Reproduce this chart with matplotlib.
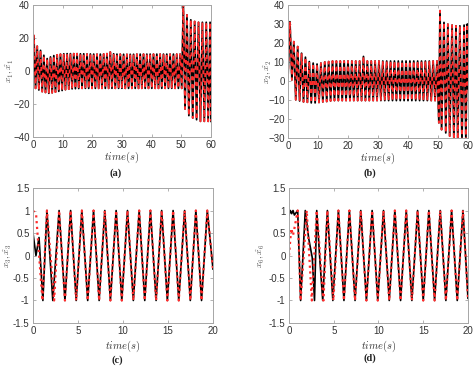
import numpy as np
import matplotlib
matplotlib.use('Agg')
import matplotlib.pyplot as plt

plt.rcParams['font.family'] = ['Liberation Sans', 'DejaVu Sans']
plt.rcParams['mathtext.fontset'] = 'cm'

# (a) x1 : peaks / troughs of the oscillation (time s, value)
a_peak_t = [0.3, 1.42, 2.54, 3.66, 4.78, 5.9, 7.02, 8.14, 9.26, 10.38,
            11.5, 12.62, 13.74, 14.86, 15.98, 17.1, 18.22, 19.34, 20.46, 21.58,
            22.7, 23.82, 24.94, 26.06, 27.18, 28.3, 29.42, 30.54, 31.66, 32.78,
            33.9, 35.02, 36.14, 37.26, 38.38, 39.5, 40.62, 41.74, 42.86, 43.98,
            45.1, 46.22, 47.34, 48.46, 49.58,
            50.67, 51.9, 53.2, 54.5, 55.8, 57.1, 58.4, 59.7]
a_peak_v = [21.5, 15.0, 12.5, 9.5, 7.5, 8.5, 9.3, 9.8, 10.2, 10.4,
            10.5, 10.5, 10.5, 10.5, 10.4, 10.4, 10.3, 10.3, 10.2, 10.2,
            10.2, 10.3, 10.5, 11.5, 10.4, 10.2, 10.2, 10.1, 10.1, 10.1,
            10.1, 10.2, 10.2, 10.2, 10.2, 10.2, 10.2, 10.2, 10.2, 10.2,
            10.2, 10.2, 10.2, 10.2, 10.2,
            41.0, 34.0, 31.0, 30.0, 29.5, 29.5, 29.5, 29.5]
a_trough_t = [0.0, 0.86, 1.98, 3.1, 4.22, 5.34, 6.46, 7.58, 8.7, 9.82, 10.94,
              12.06, 13.18, 14.3, 15.42, 16.54, 17.66, 18.78, 19.9, 21.02, 22.14,
              23.26, 24.38, 25.5, 26.62, 27.74, 28.86, 29.98, 31.1, 32.22, 33.34,
              34.46, 35.58, 36.7, 37.82, 38.94, 40.06, 41.18, 42.3, 43.42, 44.54,
              45.66, 46.78, 47.9, 49.02, 50.14,
              51.25, 52.55, 53.85, 55.15, 56.45, 57.75, 59.05, 60.0]
a_trough_v = [0.0, -10.5, -11.5, -12.5, -13.0, -13.5, -13.2, -12.8, -12.3, -11.8, -11.3,
              -11.0, -10.8, -10.7, -10.6, -10.5, -10.5, -10.5, -10.5, -10.5, -10.5,
              -10.5, -10.5, -10.5, -10.5, -10.5, -10.5, -10.5, -10.5, -10.5, -10.5,
              -10.5, -10.5, -10.5, -10.5, -10.5, -10.5, -10.5, -10.5, -10.5, -10.5,
              -10.5, -10.5, -10.5, -10.5, -10.5,
              -23.0, -27.0, -28.5, -29.5, -30.5, -30.5, -30.5, -30.5]

# (b) x2
b_peak_t = [0.65, 1.94, 3.23, 4.52, 5.81, 7.1, 8.39, 9.68, 10.97, 12.26,
            13.55, 14.84, 16.13, 17.42, 18.71, 20.0, 21.29, 22.58, 23.87, 25.16,
            26.45, 27.74, 29.03, 30.32, 31.61, 32.9, 34.19, 35.48, 36.77, 38.06,
            39.35, 40.64, 41.93, 43.22, 44.51, 45.8, 47.09, 48.38, 49.67,
            50.67, 52.0, 53.3, 54.7, 56.0, 57.3, 58.7, 59.8]
b_peak_v = [31.2, 20.7, 18.1, 14.6, 12.5, 10.2, 9.4, 8.9, 9.4, 10.0,
            10.2, 10.5, 10.5, 10.5, 10.5, 10.5, 10.5, 10.5, 10.5, 12.9,
            10.5, 10.5, 10.5, 10.5, 10.5, 10.5, 10.5, 10.5, 10.5, 10.5,
            10.5, 10.5, 10.5, 10.5, 10.5, 10.5, 10.5, 10.5, 10.5,
            37.0, 30.8, 29.9, 29.4, 29.0, 29.0, 29.4, 30.0]
b_trough_t = [0.0, 1.3, 2.59, 3.88, 5.17, 6.46, 7.75, 9.04, 10.33, 11.62, 12.91,
              14.2, 15.49, 16.78, 18.07, 19.36, 20.65, 21.94, 23.23, 24.52, 25.81,
              27.1, 28.39, 29.68, 30.97, 32.26, 33.55, 34.84, 36.13, 37.42, 38.71,
              40.0, 41.29, 42.58, 43.87, 45.16, 46.45, 47.74, 49.03, 50.3,
              51.2, 52.6, 53.9, 55.3, 56.6, 58.0, 59.3, 60.0]
b_trough_v = [2.0, 0.6, -9.9, -10.5, -11.0, -11.2, -11.5, -11.5, -11.3, -11.0, -10.8,
              -10.5, -10.3, -10.3, -10.3, -10.3, -10.3, -10.3, -10.3, -10.3, -10.3,
              -10.3, -10.3, -10.3, -10.3, -10.3, -10.3, -10.3, -10.3, -10.3, -10.3,
              -10.3, -10.3, -10.3, -10.3, -10.3, -10.3, -10.3, -10.3, -22.0,
              -25.6, -27.3, -29.0, -31.0, -31.0, -31.0, -31.0, -4.0]

# (c) x3 : turning points, actual (black) and estimate (red)
c_t = [0, 0.33, 0.67, 1.1, 1.55, 2.2, 2.9, 3.55, 4.18, 4.8, 5.43, 6.08, 6.73,
       7.35, 7.98, 8.6, 9.24, 9.87, 10.5, 11.15, 11.8, 12.42, 13.05, 13.68,
       14.3, 14.93, 15.57, 16.2, 16.85, 17.48, 18.1, 18.73, 19.37, 20.0]
c_x = [0.5, 0.0, 0.4, -1, 1, -1, 1, -1, 1, -1, 1, -1, 1,
       -1, 1, -1, 1, -1, 1, -1, 1, -1, 1, -1,
       1, -1, 1, -1, 1, -1, 1, -1, 1, -0.3]
c_t_hat = [0, 0.35, 1.05, 1.55, 2.35, 2.9, 3.55, 4.18, 4.8, 5.43, 6.08, 6.73,
           7.35, 7.98, 8.6, 9.24, 9.87, 10.5, 11.15, 11.8, 12.42, 13.05, 13.68,
           14.3, 14.93, 15.57, 16.2, 16.85, 17.48, 18.1, 18.73, 19.37, 20.0]
c_x_hat = [1.0, 0.9, -1, 1, -1, 1, -1, 1, -1, 1, -1, 1,
           -1, 1, -1, 1, -1, 1, -1, 1, -1, 1, -1,
           1, -1, 1, -1, 1, -1, 1, -1, 1, -0.3]

# (d) x6
d_t = [0, 0.15, 0.3, 0.45, 0.6, 0.97, 1.3, 1.82, 2.2, 2.6, 2.85, 3.1, 3.45, 3.77,
       4.29, 4.9, 5.52, 6.14, 6.75, 7.38, 8.02, 8.65, 9.29, 9.92, 10.56, 11.2,
       11.83, 12.47, 13.1, 13.73, 14.37, 15.0, 15.63, 16.27, 16.9, 17.53,
       18.17, 18.8, 19.44, 20.0]
d_x = [0.9, 1.0, 0.93, 1.0, 0.9, 1, -1, 1, 0.38, -0.05, -1, 1, -0.1, -1,
       1, -1, 1, -1, 1, -1, 1, -1, 1, -1, 1, -1,
       1, -1, 1, -1, 1, -1, 1, -1, 1, -1,
       1, -1, 1, -0.95]
d_t_hat = [0, 0.25, 0.45, 0.65, 0.97, 1.3, 1.98, 2.55, 3.1, 3.85, 4.29, 4.96,
           5.52, 6.14, 6.75, 7.38, 8.02, 8.65, 9.29, 9.92, 10.56, 11.2,
           11.83, 12.47, 13.1, 13.73, 14.37, 15.0, 15.63, 16.27, 16.9, 17.53,
           18.17, 18.8, 19.44, 20.0]
d_x_hat = [0.0, 0.6, 0.45, 0.65, 1, -1, 1, -1, 1, -1, 1, -1,
           1, -1, 1, -1, 1, -1, 1, -1, 1, -1,
           1, -1, 1, -1, 1, -1, 1, -1, 1, -1,
           1, -1, 1, -0.95]

red = '#ff2b2b'
frame = '#a6a6a6'
txt = '#333333'

fig = plt.figure(figsize=(4.74, 3.67), dpi=100)
ax_a = fig.add_axes([0.0696, 0.6267, 0.3755, 0.3597])
ax_b = fig.add_axes([0.6076, 0.6240, 0.3797, 0.3624])
ax_c = fig.add_axes([0.0696, 0.1199, 0.3797, 0.3678])
ax_d = fig.add_axes([0.6097, 0.1199, 0.3776, 0.3678])


def merge(pt, pv, tt, tv):
    t = np.array(pt + tt)
    v = np.array(pv + tv)
    order = np.argsort(t)
    return t[order], v[order]


ta, va = merge(a_peak_t, a_peak_v, a_trough_t, a_trough_v)
tb, vb = merge(b_peak_t, b_peak_v, b_trough_t, b_trough_v)

for ax, t, v in [(ax_a, ta, va), (ax_b, tb, vb)]:
    ax.plot(t, v, color='black', lw=1.3)
    ax.plot(t, v, color=red, lw=1.3, dashes=(2.2, 2.2))

ax_c.plot(c_t, c_x, color='black', lw=1.2)
ax_c.plot(c_t_hat, c_x_hat, color=red, lw=1.6, linestyle=(0, (1, 1.6)))
ax_d.plot(d_t, d_x, color='black', lw=1.2)
ax_d.plot(d_t_hat, d_x_hat, color=red, lw=1.6, linestyle=(0, (1, 1.6)))

ax_a.set_xlim(0, 60)
ax_a.set_ylim(-40, 40)
ax_a.set_yticks([-40, -20, 0, 20, 40])
ax_b.set_xlim(0, 60)
ax_b.set_ylim(-30, 40)
ax_b.set_yticks(range(-30, 41, 10))
for ax in (ax_a, ax_b):
    ax.set_xticks([0, 10, 20, 30, 40, 50, 60])
for ax in (ax_c, ax_d):
    ax.set_xlim(0, 20)
    ax.set_ylim(-1.5, 1.5)
    ax.set_xticks([0, 5, 10, 15, 20])
    ax.set_yticks([-1.5, -1, -0.5, 0, 0.5, 1, 1.5])
    ax.set_yticklabels(['-1.5', '-1', '-0.5', '0', '0.5', '1', '1.5'])

# label positions (label edge nearest the axes, in axes fraction)
ylabels = [r'$x_1,\hat{x}_1$', r'$x_2,\hat{x}_2$', r'$x_3,\hat{x}_3$', r'$x_6,\hat{x}_6$']
ylab_x = [-0.095, -0.078, -0.105, -0.123]
xlab_y = [-0.098, -0.098, -0.118, -0.118]
for ax, yl, yx, xy in zip([ax_a, ax_b, ax_c, ax_d], ylabels, ylab_x, xlab_y):
    ax.tick_params(direction='in', length=2.5, width=0.6, top=True, right=True,
                   labelsize=7, colors=frame, labelcolor=txt, pad=2.5)
    for s in ax.spines.values():
        s.set_color(frame)
        s.set_linewidth(0.7)
    ax.set_xlabel(r'$time(s)$', fontsize=7.5, color=txt)
    ax.set_ylabel(yl, fontsize=7, color='#555555')
    ax.yaxis.set_label_coords(yx, 0.5)
    ax.xaxis.set_label_coords(0.5, xy)

caps = [('(a)', 0.243, 0.527), ('(b)', 0.781, 0.527),
        ('(c)', 0.247, 0.019), ('(d)', 0.781, 0.0245)]
for s, x, y in caps:
    fig.text(x, y, s, ha='center', va='center', fontsize=7.5, fontweight='bold',
             family='Liberation Serif', color='#222222')

fig.savefig('out.png', dpi=100)
